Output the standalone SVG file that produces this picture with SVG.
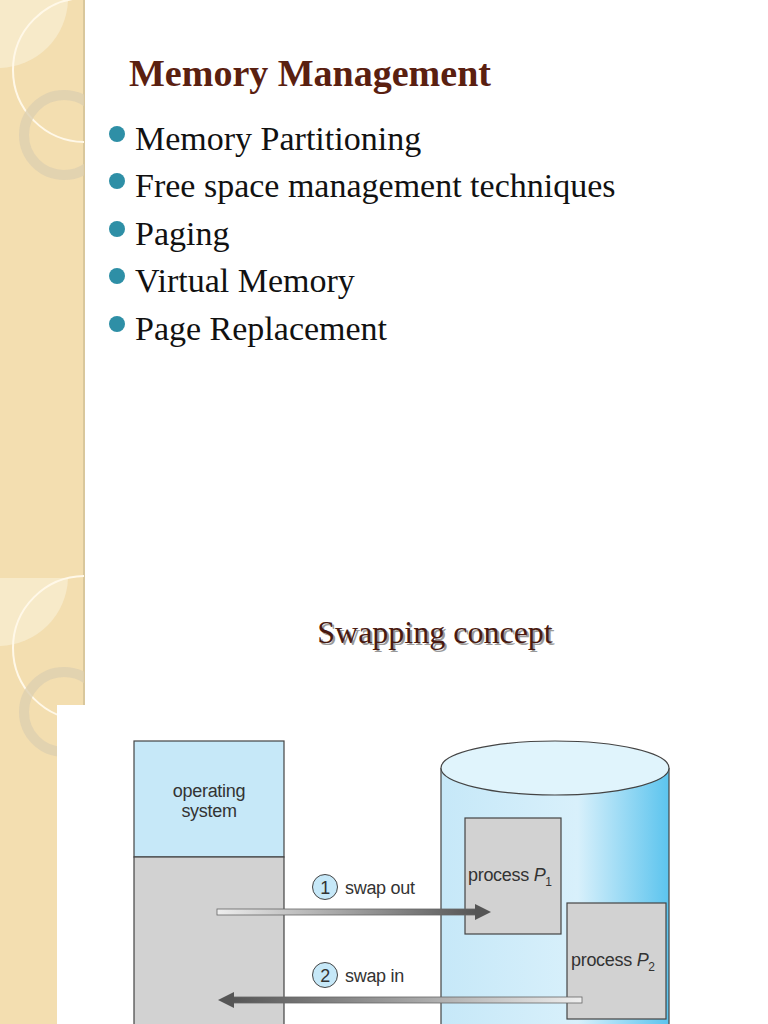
<svg xmlns="http://www.w3.org/2000/svg" width="768" height="1024" viewBox="0 0 768 1024">
<defs>
<linearGradient id="cyl" x1="0" x2="1" y1="0" y2="0">
<stop offset="0" stop-color="#c6e8f8"/><stop offset="0.6" stop-color="#d8f0fb"/><stop offset="1" stop-color="#5cc4ee"/>
</linearGradient>
<linearGradient id="a1" x1="0" x2="1"><stop offset="0" stop-color="#eee"/><stop offset="1" stop-color="#555"/></linearGradient>
<linearGradient id="a2" x1="1" x2="0"><stop offset="0" stop-color="#eee"/><stop offset="1" stop-color="#555"/></linearGradient>
<clipPath id="strip"><rect width="84" height="1024"/></clipPath>
<style>
.b{font-family:"Liberation Serif",serif;font-size:34px;fill:#111}
.d{fill:#2e8fa6}
.s{font-family:"Liberation Sans",Arial,sans-serif;font-size:18px;fill:#333;letter-spacing:-0.3px}
.box{stroke:#444;stroke-width:1.2}
</style>
</defs>
<rect width="768" height="1024" fill="#fff"/>
<rect width="85" height="1024" fill="#f3deb0"/>
<line x1="84" y1="0" x2="84" y2="1024" stroke="#d9c79c" stroke-width="2"/>
<g clip-path="url(#strip)">
<path d="M0 0 H68 A70 70 0 0 1 0 68 Z" fill="#f8ecd0" opacity="0.8"/>
<circle cx="85" cy="70" r="72" fill="none" stroke="#fff8e8" stroke-width="2"/>
<circle cx="64" cy="135" r="40" fill="none" stroke="#ddd0b0" stroke-width="10" opacity="0.8"/>
<path d="M0 578 H68 A70 70 0 0 1 0 646 Z" fill="#f8ecd0" opacity="0.8"/>
<circle cx="85" cy="648" r="72" fill="none" stroke="#fff8e8" stroke-width="2"/>
<circle cx="64" cy="712" r="40" fill="none" stroke="#ddd0b0" stroke-width="10" opacity="0.8"/>
</g>
<rect x="57" y="705" width="711" height="319" fill="#fff"/>
<text x="129" y="86" font-family="Liberation Serif,serif" font-size="38" font-weight="bold" fill="#5a2010">Memory Management</text>
<g id="bullets">
<circle class="d" cx="117" cy="134" r="8"/><text class="b" x="135" y="150">Memory Partitioning</text>
<circle class="d" cx="117" cy="181" r="8"/><text class="b" x="135" y="197">Free space management techniques</text>
<circle class="d" cx="117" cy="229" r="8"/><text class="b" x="135" y="245">Paging</text>
<circle class="d" cx="117" cy="276" r="8"/><text class="b" x="135" y="292">Virtual Memory</text>
<circle class="d" cx="117" cy="324" r="8"/><text class="b" x="135" y="340">Page Replacement</text>
</g>
<text x="437" y="645" text-anchor="middle" font-family="Liberation Serif,serif" font-size="32" fill="#999">Swapping concept</text>
<text x="435" y="643" text-anchor="middle" font-family="Liberation Serif,serif" font-size="32" fill="#4a1a10">Swapping concept</text>
<g id="memory">
<rect class="box" x="134" y="741" width="150" height="116" fill="#c6e8f8"/>
<rect class="box" x="134" y="857" width="150" height="180" fill="#d2d2d2"/>
<text class="s" x="209" y="797" text-anchor="middle">operating</text>
<text class="s" x="209" y="817" text-anchor="middle">system</text>
</g>
<g id="disk">
<path d="M441 768 V1030 H669 V768" fill="url(#cyl)" stroke="#444" stroke-width="1.2"/>
<ellipse cx="555" cy="768" rx="114" ry="27" fill="#e0f4fc" stroke="#444" stroke-width="1.2"/>
</g>
<g id="p1"><rect class="box" x="465" y="818" width="96" height="116" fill="#d2d2d2"/>
<text class="s" x="468" y="881">process <tspan font-style="italic">P</tspan><tspan font-size="12" dy="5">1</tspan></text></g>
<g id="p2"><rect class="box" x="567" y="903" width="99" height="116" fill="#d2d2d2"/>
<text class="s" x="571" y="966">process <tspan font-style="italic">P</tspan><tspan font-size="12" dy="5">2</tspan></text></g>
<g id="connectors">
<rect x="217" y="909" width="260" height="6" fill="url(#a1)" stroke="#666" stroke-width="0.8"/>
<path d="M475 904 L491 912 L475 920 Z" fill="#555"/>
<rect x="232" y="997" width="350" height="6" fill="url(#a2)" stroke="#666" stroke-width="0.8"/>
<path d="M234 992 L218 1000 L234 1008 Z" fill="#555"/>
<circle cx="325" cy="887" r="12.5" fill="#c6e8f8" stroke="#444"/>
<text class="s" x="325" y="894" text-anchor="middle">1</text>
<text class="s" x="345" y="894">swap out</text>
<circle cx="325" cy="975" r="12.5" fill="#c6e8f8" stroke="#444"/>
<text class="s" x="325" y="982" text-anchor="middle">2</text>
<text class="s" x="345" y="982">swap in</text>
</g>
</svg>
